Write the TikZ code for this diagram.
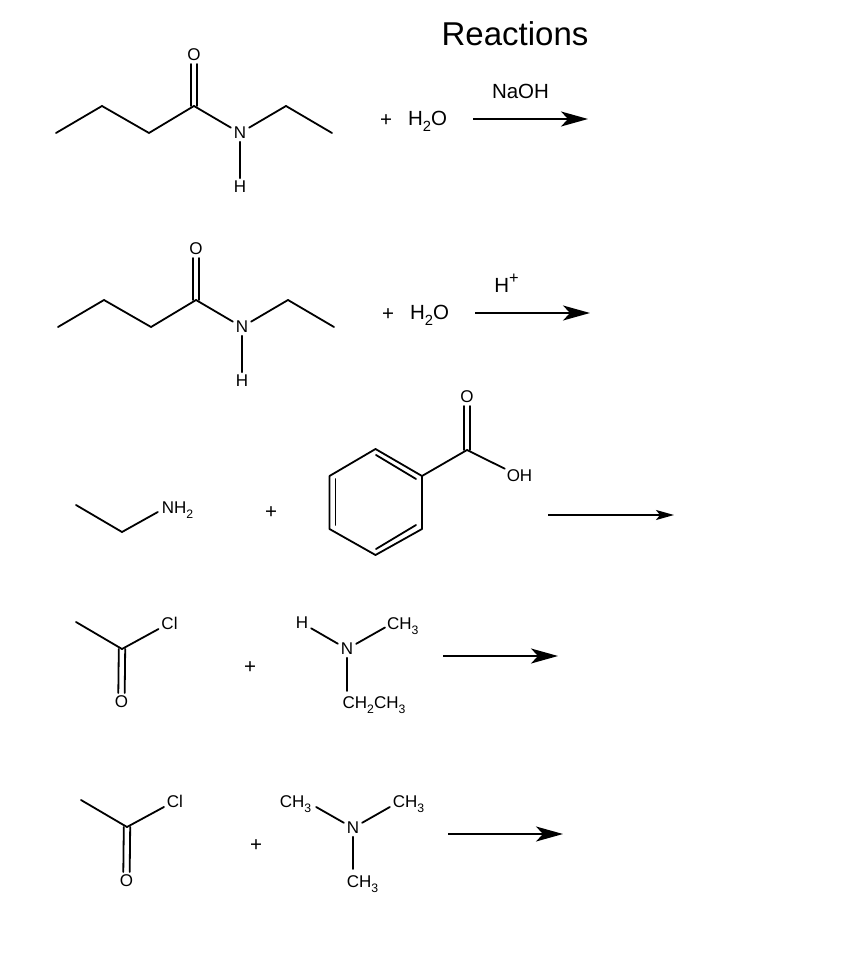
\documentclass[tikz,border=0pt]{standalone}
\usepackage{fontspec}
\setmainfont{Liberation Sans}
\usetikzlibrary{arrows.meta}
\newcommand{\lowsub}[1]{\smash{\raisebox{-0.28em}{\scalebox{0.72}{#1}}}}
\newcommand{\highsup}[1]{\smash{\raisebox{0.42em}{\scalebox{0.8}{#1}}}}
\tikzset{
  x=1pt,y=-1pt,
  bond/.style={line width=1.8pt,line cap=round,line join=miter,black},
  atom/.style={inner sep=3pt,outer sep=0pt,font=\fontsize{17}{18}\selectfont},
  group/.style={inner sep=0pt,outer sep=0pt,font=\fontsize{17}{18}\selectfont},
  big/.style={inner sep=0pt,outer sep=0pt,font=\fontsize{20.5}{22}\selectfont},
  title/.style={inner sep=0pt,outer sep=0pt,font=\fontsize{33}{36}\selectfont},
  rxn/.style={line width=1.8pt,-{Stealth[length=27pt,width=15pt,inset=7pt]}},
  rxnsmall/.style={line width=1.8pt,-{Stealth[length=18pt,width=10pt,inset=4pt]}},
  amide/.pic={
    \coordinate (c1) at (56,133);
    \coordinate (c2) at (102,106);
    \coordinate (c3) at (149,133);
    \coordinate (c4) at (194,106);
    \coordinate (c5) at (286,106);
    \coordinate (c6) at (332,133);
    \node[atom] (o) at (194,55) {O};
    \node[atom] (n) at (240,133) {N};
    \node[atom] (h) at (240,187) {H};
    \draw[bond] (c1) -- (c2) -- (c3) -- (c4);
    \draw[bond] (c5) -- (c6);
    \draw[bond] (c4) -- (n);
    \draw[bond] (n) -- (c5);
    \draw[bond] (n) -- (h);
    \draw[bond] ([xshift=-3.2pt]c4) -- ([xshift=-3.2pt]o.south);
    \draw[bond] ([xshift=3.2pt]c4) -- ([xshift=3.2pt]o.south);
  },
}
\begin{document}
\begin{tikzpicture}
\useasboundingbox (0,0) rectangle (864,957);
\fill[white] (0,0) rectangle (864,957);

\node[title] (ttl) at (515,34) {Reactions};

% reaction 1
\pic (a) at (0,0) {amide};
\node[big] (p1) at (386,121) {+};
\node[big] (w1) at (427.5,118.5) {H\lowsub{2}O};
\node[big] (r1) at (520.5,91) {NaOH};
\coordinate (s1) at (473,119);
\coordinate (e1) at (588,119);
\draw[rxn] (s1) -- (e1);

% reaction 2
\pic (b) at (2,194) {amide};
\node[big] (p2) at (388,315) {+};
\node[big] (w2) at (429.5,312.5) {H\lowsub{2}O};
\node[big] (r2) at (506.5,285) {H\highsup{+}};
\coordinate (s2) at (475,313);
\coordinate (e2) at (590,313);
\draw[rxn] (s2) -- (e2);

% reaction 3: ethylamine + benzoic acid
\coordinate (d1) at (76,505);
\coordinate (d2) at (122,532);
\node[group] (nh2) at (177.5,508) {NH\lowsub{2}};
\draw[bond] (d1) -- (d2) -- ([xshift=-4pt,yshift=-4pt]nh2.west);
\node[big] (p3) at (271,513) {+};
\coordinate (r-a) at (375.5,449);
\coordinate (r-b) at (422,476);
\coordinate (r-c) at (422,529);
\coordinate (r-d) at (375.5,555);
\coordinate (r-e) at (329.5,529);
\coordinate (r-f) at (329.5,476);
\draw[bond,line join=round] (r-a) -- (r-b) -- (r-c) -- (r-d) -- (r-e) -- (r-f) -- cycle;
\coordinate (i-a1) at (376,455);
\coordinate (i-a2) at (416,479);
\coordinate (i-b1) at (376,549);
\coordinate (i-b2) at (416,525);
\coordinate (i-c1) at (335.5,479);
\coordinate (i-c2) at (335.5,525);
\draw[bond] (i-a1) -- (i-a2);
\draw[bond] (i-b1) -- (i-b2);
\draw[bond] (i-c1) -- (i-c2);
\coordinate (cx) at (467,450);
\node[atom] (o3) at (467,397) {O};
\node[atom,inner sep=2pt] (oh) at (519.5,476) {OH};
\draw[bond] (r-b) -- (cx);
\draw[bond] (cx) -- (oh);
\draw[bond] ([xshift=-3.2pt]cx) -- ([xshift=-3.2pt]o3.south);
\draw[bond] ([xshift=3.2pt]cx) -- ([xshift=3.2pt]o3.south);
\coordinate (s3) at (548,515);
\coordinate (e3) at (674,515);
\draw[rxnsmall] (s3) -- (e3);

% reaction 4
\coordinate (f1) at (76,622);
\coordinate (f2) at (122,649);
\node[atom] (cl4) at (169.5,623) {Cl};
\node[atom] (o4) at (121.5,702) {O};
\draw[bond] (f1) -- (f2);
\draw[bond] (f2) -- (cl4);
\draw[bond] ([xshift=-3.2pt]f2) -- ([xshift=-3.2pt]o4.north);
\draw[bond] ([xshift=3.2pt]f2) -- ([xshift=3.2pt]o4.north);
\node[big] (p4) at (250,668) {+};
\node[atom] (n4) at (347,649) {N};
\node[atom] (h4) at (302,623) {H};
\node[group,anchor=west] (m4) at (387,624) {CH\lowsub{3}};
\node[group,anchor=center] (et4) at (374,703) {CH\lowsub{2}CH\lowsub{3}};
\draw[bond] (h4) -- (n4);
\draw[bond] (n4) -- ([xshift=-2pt,yshift=-3.5pt]m4.west);
\draw[bond] (n4) -- ([yshift=6pt]n4 |- et4.north);
\coordinate (s4) at (443,656);
\coordinate (e4) at (558,656);
\draw[rxn] (s4) -- (e4);

% reaction 5
\coordinate (g1) at (81,800);
\coordinate (g2) at (127,827);
\node[atom] (cl5) at (175,801) {Cl};
\node[atom] (o5) at (126.5,881) {O};
\draw[bond] (g1) -- (g2);
\draw[bond] (g2) -- (cl5);
\draw[bond] ([xshift=-3.2pt]g2) -- ([xshift=-3.2pt]o5.north);
\draw[bond] ([xshift=3.2pt]g2) -- ([xshift=3.2pt]o5.north);
\node[big] (p5) at (256,846) {+};
\node[atom] (n5) at (353,828) {N};
\node[group] (ml) at (295.5,802) {CH\lowsub{3}};
\node[group] (mr) at (408.5,802) {CH\lowsub{3}};
\node[group] (mb) at (362.5,882) {CH\lowsub{3}};
\draw[bond] ([xshift=5pt,yshift=-5pt]ml.east) -- (n5);
\draw[bond] (n5) -- ([xshift=-3pt,yshift=-5pt]mr.west);
\draw[bond] (n5) -- ([yshift=7pt]n5 |- mb.north);
\coordinate (s5) at (448,834);
\coordinate (e5) at (563,834);
\draw[rxn] (s5) -- (e5);
\end{tikzpicture}
\end{document}
